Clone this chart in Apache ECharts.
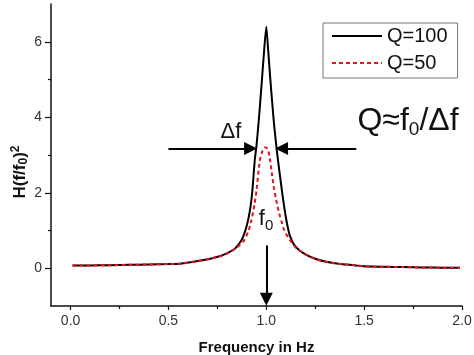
<!DOCTYPE html>
<html>
<head>
<meta charset="utf-8">
<script src="https://cdn.jsdelivr.net/npm/echarts@6/dist/echarts.min.js"></script>
<style>html,body{margin:0;padding:0;background:#fff;}#c{width:474px;height:355px;}</style>
</head>
<body>
<div id="c"></div>
<script>
var xTicks = [0, 0.5, 1.0, 1.5, 2.0];
var xMinorTicks = [0.25, 0.75, 1.25, 1.75];
var yTicks = [0, 2, 4, 6];
var yMinorTicks = [1, 3, 5];

var freqQ100 = [0.01,0.1,0.2,0.3,0.4,0.5,0.56,0.65,0.72,0.77,0.80,0.84,0.873,0.89,0.907,0.92,0.929,0.941,0.95,0.963,0.975,0.988,1.0,1.01,1.02,1.03,1.04,1.05,1.06,1.07,1.08,1.09,1.1,1.11,1.12,1.14,1.17,1.2,1.25,1.3,1.37,1.45,1.5,1.6,1.7,1.8,1.9,1.99];
var valQ100  = [0.07,0.075,0.08,0.09,0.10,0.11,0.12,0.19,0.26,0.33,0.40,0.52,0.74,0.95,1.27,1.65,2.06,2.86,3.25,4.0,4.8,5.7,6.4,5.75,5.05,4.4,3.8,3.3,2.85,2.45,2.05,1.68,1.35,1.08,0.87,0.64,0.47,0.37,0.25,0.18,0.12,0.08,0.05,0.04,0.03,0.02,0.015,0.01];

var freqQ50 = [0.01,0.1,0.2,0.3,0.4,0.5,0.56,0.65,0.72,0.77,0.80,0.85,0.887,0.91,0.924,0.94,0.95,0.967,0.98,0.99,1.0,1.01,1.02,1.03,1.04,1.05,1.06,1.07,1.08,1.09,1.1,1.12,1.15,1.2,1.25,1.3,1.37,1.45,1.5,1.6,1.7,1.8,1.9,1.99];
var valQ50  = [0.07,0.075,0.08,0.09,0.10,0.11,0.12,0.19,0.26,0.33,0.39,0.55,0.74,1.0,1.27,1.7,2.06,2.86,3.1,3.2,3.2,3.12,2.85,2.45,2.1,1.82,1.58,1.38,1.2,1.03,0.92,0.75,0.55,0.37,0.25,0.18,0.12,0.08,0.05,0.04,0.03,0.02,0.015,0.01];

// annotation arrows: [x0, y0, x1, y1] in data units (arrow head at the end)
var arrowLeft  = [0.5, 3.17, 0.92, 3.17];
var arrowRight = [1.46, 3.17, 1.078, 3.17];
var arrowDown  = [1.0, 0.6, 1.0, -0.82];

function pairs(xs, ys) { return xs.map(function (x, i) { return [x, ys[i]]; }); }
function seg(a) { return [{coord: [a[0], a[1]]}, {coord: [a[2], a[3]]}]; }

var FONT = '"Liberation Sans", Arial, sans-serif';
var chart = echarts.init(document.getElementById('c'));
var axisCommon = {
  type: 'value',
  splitLine: {show: false}
};
chart.setOption({
  animation: false,
  backgroundColor: '#fff',
  grid: {left: 51, top: 4, right: 12, bottom: 49, containLabel: false, outerBoundsMode: 'none'},
  xAxis: [
    Object.assign({}, axisCommon, {
      min: -0.1, max: 2.0,
      axisLine: {show: true, onZero: false, lineStyle: {color: '#111', width: 1.5}},
      axisTick: {show: true, length: 4, customValues: xTicks, lineStyle: {color: '#111', width: 1.2}},
      axisLabel: {customValues: xTicks, margin: 8, fontSize: 14, color: '#333', fontFamily: FONT,
        formatter: function (v) { return v.toFixed(1); }},
      name: 'Frequency in Hz', nameLocation: 'middle', nameGap: 34,
      nameTextStyle: {fontSize: 15, fontWeight: 'bold', color: '#111', fontFamily: FONT}
    }),
    Object.assign({}, axisCommon, {
      min: -0.1, max: 2.0, position: 'bottom',
      axisLine: {show: false, onZero: false},
      axisTick: {show: true, length: 3, customValues: xMinorTicks, lineStyle: {color: '#111', width: 1.2}},
      axisLabel: {show: false}
    })
  ],
  yAxis: [
    Object.assign({}, axisCommon, {
      min: -1, max: 7,
      axisLine: {show: true, onZero: false, lineStyle: {color: '#111', width: 1.5}},
      axisTick: {show: true, length: 6, customValues: yTicks, lineStyle: {color: '#111', width: 1.2}},
      axisLabel: {customValues: yTicks, margin: 9, fontSize: 14, color: '#333', fontFamily: FONT}
    }),
    Object.assign({}, axisCommon, {
      min: -1, max: 7, position: 'left',
      axisLine: {show: false, onZero: false},
      axisTick: {show: true, length: 3, customValues: yMinorTicks, lineStyle: {color: '#111', width: 1.2}},
      axisLabel: {show: false}
    })
  ],
  legend: {
    left: 323, top: 23, orient: 'vertical',
    padding: [3, 10, 5, 8], itemGap: 7, itemWidth: 50, itemHeight: 14,
    borderColor: '#777', borderWidth: 1, backgroundColor: '#fff',
    itemStyle: {opacity: 0},
    textStyle: {fontSize: 20, color: '#111', fontFamily: FONT},
    data: ['Q=100', 'Q=50']
  },
  series: [
    {
      name: 'Q=100', type: 'line', data: pairs(freqQ100, valQ100),
      symbol: 'none', smooth: 0.2,
      lineStyle: {color: '#000', width: 2}, itemStyle: {color: '#000'},
      z: 3,
      markLine: {
        silent: true, symbol: ['none', 'triangle'], symbolSize: 13,
        label: {show: false},
        lineStyle: {color: '#000', width: 2, type: 'solid'},
        itemStyle: {color: '#000'},
        data: [seg(arrowLeft), seg(arrowRight), seg(arrowDown)]
      }
    },
    {
      name: 'Q=50', type: 'line', data: pairs(freqQ50, valQ50),
      symbol: 'none', smooth: 0.2,
      lineStyle: {color: '#e3141f', width: 2, type: [4, 3]}, itemStyle: {color: '#e3141f'},
      z: 4
    }
  ],
  graphic: [
    {type: 'text', x: 20, y: 172, rotation: Math.PI / 2,
      style: {text: 'H(f/f{sub|0}){sup|2}', x: 0, y: 0, align: 'center', verticalAlign: 'middle',
        font: 'bold 17px ' + FONT, fill: '#111',
        rich: {sub: {fontSize: 12, fontWeight: 'bold', fontFamily: FONT, padding: [8, 0, 0, 0]},
               sup: {fontSize: 12, fontWeight: 'bold', fontFamily: FONT, padding: [0, 0, 9, 0]}}}},
    {type: 'text', x: 231, y: 132,
      style: {text: 'Δf', align: 'center', verticalAlign: 'middle', font: '22px ' + FONT, fill: '#111'}},
    {type: 'text', x: 266, y: 219,
      style: {text: 'f{sub|0}', align: 'center', verticalAlign: 'middle', font: '22px ' + FONT, fill: '#111',
        rich: {sub: {fontSize: 15, fontFamily: FONT, padding: [14, 0, 0, 0]}}}},
    {type: 'text', x: 408, y: 121,
      style: {text: 'Q≈f{sub|0}/Δf', align: 'center', verticalAlign: 'middle', font: '32px ' + FONT, fill: '#111',
        rich: {sub: {fontSize: 19, fontFamily: FONT, padding: [18, 0, 0, 0]}}}}
  ]
});
</script>
</body>
</html>
